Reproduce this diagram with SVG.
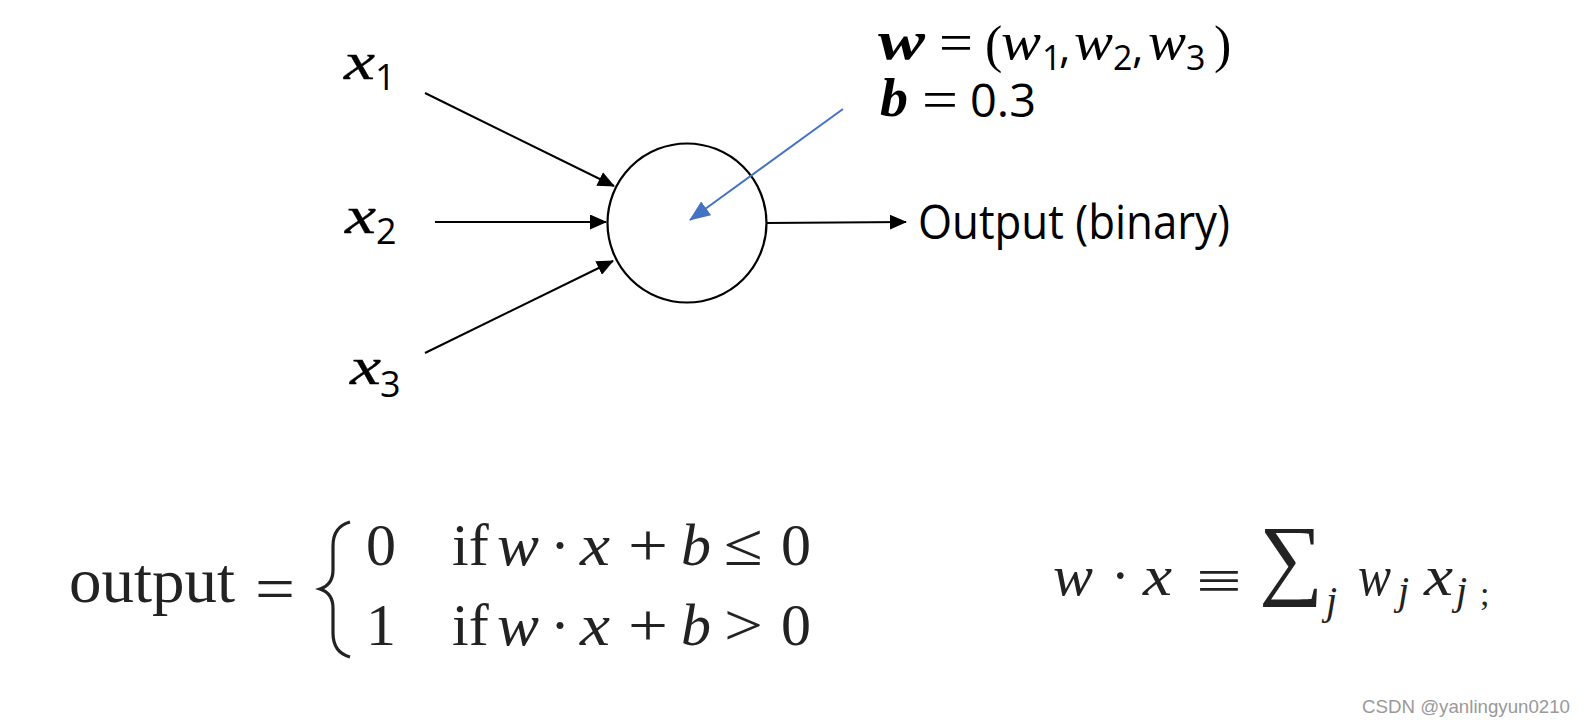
<svg xmlns="http://www.w3.org/2000/svg" width="1586" height="726" viewBox="0 0 1586 726">
<defs>
<style>
.ln{stroke:#000;stroke-width:2;fill:none}
.bl{stroke:#4472C4;stroke-width:2;fill:none}
.mi{font-family:"Liberation Serif","Times New Roman",serif;font-style:italic;fill:#000}
.mx{stroke:#000;stroke-width:0.35}
.mb{font-family:"Liberation Serif","Times New Roman",serif;font-style:italic;font-weight:bold;fill:#000}
.ms{font-family:"Liberation Serif","Times New Roman",serif;fill:#000}
.sn{font-family:"Open Sans","Liberation Sans",sans-serif;fill:#000}
.tx{font-family:"Liberation Serif","Times New Roman",serif;fill:#222}
.ti{font-family:"Liberation Serif","Times New Roman",serif;font-style:italic;fill:#222}
</style>
<marker id="ah" markerUnits="userSpaceOnUse" markerWidth="17" markerHeight="15" refX="16" refY="7.5" orient="auto"><path d="M0,0 L17,7.5 L0,15 z" fill="#000"/></marker>
<marker id="ahb" markerUnits="userSpaceOnUse" markerWidth="21" markerHeight="17" refX="20" refY="8.5" orient="auto"><path d="M0,0 L21,8.5 L0,17 z" fill="#4472C4"/></marker>
</defs>
<rect width="1586" height="726" fill="#fff"/>

<g id="neuron">
<circle cx="687" cy="223" r="79.5" fill="none" stroke="#000" stroke-width="2.2"/>
</g>

<g id="connectors">
<line class="ln" x1="425" y1="93" x2="614" y2="186" marker-end="url(#ah)"/>
<line class="ln" x1="435" y1="222" x2="606" y2="222" marker-end="url(#ah)"/>
<line class="ln" x1="425" y1="353" x2="613" y2="261" marker-end="url(#ah)"/>
<line class="ln" x1="766" y1="223" x2="906" y2="222" marker-end="url(#ah)"/>
<line class="bl" x1="843" y1="109" x2="690" y2="220" marker-end="url(#ahb)"/>
</g>

<g id="input-x1">
<text class="mi mx" x="344" y="79" font-size="52" textLength="31" lengthAdjust="spacingAndGlyphs">x</text>
<text class="sn" x="375" y="90" font-size="36">1</text>
</g>
<g id="input-x2">
<text class="mi mx" x="345" y="233" font-size="52" textLength="31" lengthAdjust="spacingAndGlyphs">x</text>
<text class="sn" x="376" y="244" font-size="36">2</text>
</g>
<g id="input-x3">
<text class="mi mx" x="350" y="384" font-size="52" textLength="31" lengthAdjust="spacingAndGlyphs">x</text>
<text class="sn" x="380" y="397" font-size="36">3</text>
</g>

<g id="params">
<text class="mb" x="878" y="59" font-size="54" textLength="47" lengthAdjust="spacingAndGlyphs">w</text>
<text class="ms" x="939" y="61" font-size="54" textLength="34" lengthAdjust="spacingAndGlyphs">=</text>
<text class="ms" x="985" y="62" font-size="52">(</text>
<text class="mi" x="1001" y="59" font-size="52" textLength="40" lengthAdjust="spacingAndGlyphs">w</text>
<text class="sn" x="1042" y="70" font-size="34">1</text>
<text class="sn" x="1059" y="62" font-size="44">,</text>
<text class="mi" x="1074" y="59" font-size="52" textLength="39" lengthAdjust="spacingAndGlyphs">w</text>
<text class="sn" x="1113" y="70" font-size="34">2</text>
<text class="sn" x="1132" y="62" font-size="44">,</text>
<text class="mi" x="1148" y="59" font-size="52" textLength="38" lengthAdjust="spacingAndGlyphs">w</text>
<text class="sn" x="1186" y="70" font-size="34">3</text>
<text class="ms" x="1214" y="62" font-size="52">)</text>
<text class="mb" x="880" y="116" font-size="54" textLength="28" lengthAdjust="spacingAndGlyphs">b</text>
<text class="ms" x="922" y="118" font-size="54" textLength="36" lengthAdjust="spacingAndGlyphs">=</text>
<text class="sn" x="970" y="117" font-size="46" textLength="66" lengthAdjust="spacingAndGlyphs">0.3</text>
</g>

<g id="output-label">
<text class="sn" x="918" y="239" font-size="48" textLength="312" lengthAdjust="spacingAndGlyphs">Output (binary)</text>
</g>

<g id="formula-output">
<text class="tx" x="69" y="602" font-size="64" textLength="166" lengthAdjust="spacingAndGlyphs">output</text>
<text class="tx" x="255" y="610" font-size="64" textLength="40" lengthAdjust="spacingAndGlyphs">=</text>
<path d="M350,522 C339,525 333,533 333,546 L333,570 C333,580 329,586 320,589 C329,592 333,598 333,608 L333,633 C333,646 339,654 350,657" fill="none" stroke="#222" stroke-width="3.2"/>
<text class="tx" x="366" y="565" font-size="60">0</text>
<text class="tx" x="452" y="565" font-size="60">if</text>
<text class="ti" x="497" y="565" font-size="60" textLength="42" lengthAdjust="spacingAndGlyphs">w</text>
<text class="tx" x="550" y="565" font-size="60">·</text>
<text class="ti" x="580" y="565" font-size="60" textLength="30" lengthAdjust="spacingAndGlyphs">x</text>
<text class="tx" x="628" y="565" font-size="60" textLength="40" lengthAdjust="spacingAndGlyphs">+</text>
<text class="ti" x="681" y="565" font-size="60">b</text>
<text class="tx" x="724" y="565" font-size="60" textLength="39" lengthAdjust="spacingAndGlyphs">≤</text>
<text class="tx" x="781" y="565" font-size="60">0</text>
<text class="tx" x="366" y="645" font-size="60">1</text>
<text class="tx" x="452" y="645" font-size="60">if</text>
<text class="ti" x="497" y="645" font-size="60" textLength="42" lengthAdjust="spacingAndGlyphs">w</text>
<text class="tx" x="550" y="645" font-size="60">·</text>
<text class="ti" x="580" y="645" font-size="60" textLength="30" lengthAdjust="spacingAndGlyphs">x</text>
<text class="tx" x="628" y="645" font-size="60" textLength="40" lengthAdjust="spacingAndGlyphs">+</text>
<text class="ti" x="681" y="645" font-size="60">b</text>
<text class="tx" x="724" y="645" font-size="60" textLength="39" lengthAdjust="spacingAndGlyphs">&gt;</text>
<text class="tx" x="781" y="645" font-size="60">0</text>
</g>

<g id="formula-dot">
<text class="ti" x="1053" y="595" font-size="56" textLength="40" lengthAdjust="spacingAndGlyphs">w</text>
<text class="tx" x="1111" y="595" font-size="56">·</text>
<text class="ti" x="1143" y="595" font-size="56" textLength="29" lengthAdjust="spacingAndGlyphs">x</text>
<text class="tx" transform="translate(1196,600) scale(1.4,1)" x="0" y="0" font-size="58">≡</text>
<text class="tx" x="1259" y="588" font-size="90">∑</text>
<text class="ti" x="1326" y="614" font-size="40">j</text>
<text class="ti" x="1358" y="595" font-size="56" textLength="33" lengthAdjust="spacingAndGlyphs">w</text>
<text class="ti" x="1398" y="604" font-size="40">j</text>
<text class="ti" x="1424" y="595" font-size="56" textLength="29" lengthAdjust="spacingAndGlyphs">x</text>
<text class="ti" x="1456" y="604" font-size="40">j</text>
<text class="tx" x="1480" y="605" font-size="34">;</text>
</g>

<g id="watermark">
<text x="1362" y="713" font-family="Liberation Sans, Arial, sans-serif" font-size="19" fill="#999" textLength="208" lengthAdjust="spacingAndGlyphs">CSDN @yanlingyun0210</text>
</g>
</svg>
